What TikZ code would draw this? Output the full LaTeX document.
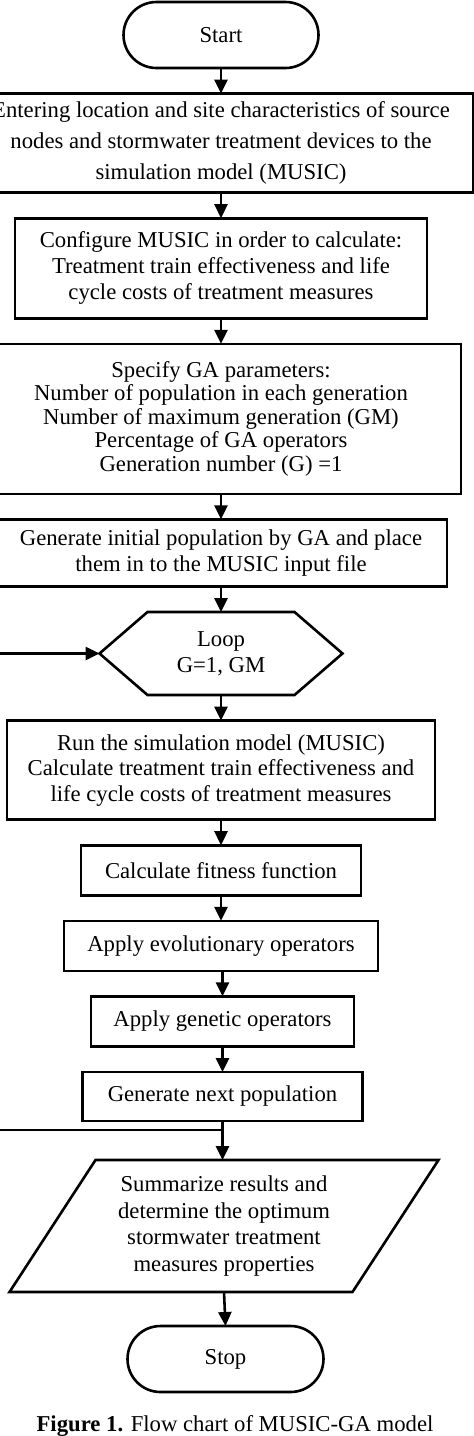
\documentclass[tikz,border=0pt]{standalone}
\usepackage{fontspec}
\setmainfont{Liberation Serif}
\usepackage{tikz}
\usetikzlibrary{arrows.meta, calc, positioning}

\begin{document}
\begin{tikzpicture}[
    x=1pt, y=1pt,
    node distance=25.6pt,
    box/.style={draw, line width=2.6pt, align=center, inner sep=2pt, outer sep=0pt,
        font=\fontsize{22.7}{25.5}\selectfont},
    plain/.style={align=center, inner sep=2pt, outer sep=0pt,
        font=\fontsize{22.7}{26.5}\selectfont},
    term/.style={box, rounded corners=33pt, minimum width=195pt, minimum height=66pt},
    line/.style={line width=2.6pt, line join=miter},
    arrow/.style={-{Triangle[width=13pt,length=14pt]}, line width=2.6pt}
]
\useasboundingbox (0,0) rectangle (474,-1436);

% Nodes
\node (start) [term] at (221,-35) {Start};
\node (enter) [box, below=of start, minimum width=504pt, minimum height=99pt,
    font=\fontsize{22.7}{31}\selectfont]
    {Entering location and site characteristics of source\\
     nodes and stormwater treatment devices to the\\
     simulation model (MUSIC)};
\node (config) [box, below=of enter, minimum width=412pt, minimum height=100pt,
    font=\fontsize{22.7}{26}\selectfont]
    {Configure MUSIC in order to calculate:\\
     Treatment train effectiveness and life\\
     cycle costs of treatment measures};
\node (param) [box, below=of config, minimum width=480pt, minimum height=150pt,
    font=\fontsize{22.7}{23.5}\selectfont]
    {Specify GA parameters:\\
     Number of population in each generation\\
     Number of maximum generation (GM)\\
     Percentage of GA operators\\
     Generation number (G) =1};
\node (ginit) [box, below=of param, minimum width=452pt, minimum height=67pt]
    {Generate initial population by GA and place\\
     them in to the MUSIC input file};
\node (loop) [plain, below=of ginit, minimum width=243pt, minimum height=83pt,
    font=\fontsize{22.7}{26}\selectfont] {Loop\\G=1, GM};
\node (run) [box, below=of loop, minimum width=428pt, minimum height=99pt]
    {Run the simulation model (MUSIC)\\
     Calculate treatment train effectiveness and\\
     life cycle costs of treatment measures};
\node (fit) [box, below=of run, minimum width=280pt, minimum height=50pt]
    {Calculate fitness function};
\node (evol) [box, below=of fit, minimum width=314pt, minimum height=50pt]
    {Apply evolutionary operators};
\node (gene) [box, below=of evol, xshift=1.5pt, minimum width=263pt, minimum height=50pt]
    {Apply genetic operators};
\node (next) [box, below=of gene, minimum width=280pt, minimum height=49pt]
    {Generate next population};
\node (summ) [plain, below=39pt of next, xshift=1.5pt, minimum width=257pt, minimum height=132pt]
    {Summarize results and\\
     determine the optimum\\
     stormwater treatment\\
     measures properties};
\node (stop) [term, below=34pt of summ, xshift=1.5pt, minimum width=196pt] {Stop};
\node (cap) [anchor=base, font=\fontsize{22.7}{26}\selectfont] at (235,-1431)
    {\textbf{Figure 1.} Flow chart of MUSIC-GA model};

% Shapes
\draw[line] (loop.west) -- ([xshift=48pt]loop.north west) -- ([xshift=-48pt]loop.north east)
    -- (loop.east) -- ([xshift=-48pt]loop.south east) -- ([xshift=48pt]loop.south west) -- cycle;
\draw[line] ([xshift=-128.5pt]summ.north) -- ([xshift=214.5pt]summ.north)
    -- ([xshift=128.5pt]summ.south) -- ([xshift=-214.5pt]summ.south) -- cycle;

% Arrows
\draw[arrow] (start) -- (enter);
\draw[arrow] (enter) -- (config);
\draw[arrow] (config) -- (param);
\draw[arrow] (param) -- (ginit);
\draw[arrow] (ginit) -- (loop);
\draw[arrow] (loop) -- (run);
\draw[arrow] (run) -- (fit);
\draw[arrow] (fit) -- (evol);
\draw[arrow] (evol.south -| gene.north) -- (gene);
\draw[arrow] (gene.south) -- (gene.south |- next.north);
\draw[arrow] (next.south) -- (next.south |- summ.north);
\draw[arrow] (summ.south |- stop.north) ++(0,34pt) -- (stop.north);
\coordinate (back) at ([yshift=-9pt]next.south);
\draw[arrow] (back) -- ++(-240pt,0) |- (loop.west);

\end{tikzpicture}
\end{document}
